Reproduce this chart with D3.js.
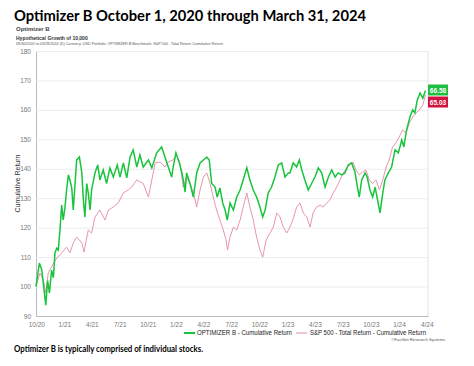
<!DOCTYPE html>
<html lang="en">
<head>
<meta charset="UTF-8">
<title>Optimizer B</title>
<script src="https://d3js.org/d3.v7.min.js"></script>
<style>
  body { margin: 0; background: #fff; }
  svg { display: block; }
  .ttl { font-family: Lato, "Open Sans", sans-serif; font-weight: bold; fill: #000; }
  .sm { font-family: "Liberation Sans", Arial, sans-serif; }
  .tick text { font-family: "Liberation Sans", Arial, sans-serif; font-size: 6.5px; fill: #777; }
</style>
</head>
<body>
<div id="chart"></div>
<script>
// cumulative return, growth of 100
var optDates = ["2020-09-30","2020-10-11","2020-10-19","2020-10-24","2020-11-01","2020-11-07","2020-11-13","2020-11-20","2020-11-26","2020-12-01","2020-12-07","2020-12-12","2020-12-18","2020-12-23","2020-12-28",
  "2021-01-03","2021-01-08","2021-01-14","2021-01-19","2021-01-25","2021-01-30","2021-02-10","2021-02-19","2021-02-27","2021-03-04","2021-03-09","2021-03-15","2021-03-20","2021-03-26","2021-03-31",
  "2021-04-11","2021-04-20","2021-04-27","2021-05-08","2021-05-19","2021-05-30","2021-06-10","2021-06-23","2021-07-02","2021-07-13","2021-07-24","2021-08-04","2021-08-14","2021-08-26","2021-09-05","2021-09-16",
  "2021-10-03","2021-10-14","2021-10-30","2021-11-15","2021-11-26","2021-12-07","2021-12-18","2021-12-23",
  "2022-01-01","2022-01-12","2022-01-20","2022-01-25","2022-01-31","2022-02-05","2022-02-16","2022-02-27","2022-03-10","2022-03-21","2022-04-01","2022-04-12","2022-04-20","2022-04-28",
  "2022-05-09","2022-05-16","2022-05-25","2022-06-03","2022-06-11","2022-06-18","2022-06-27","2022-07-08","2022-07-19","2022-07-30","2022-08-09","2022-08-21","2022-08-31","2022-09-11","2022-09-22",
  "2022-10-03","2022-10-12","2022-10-20","2022-10-30","2022-11-10","2022-11-21","2022-12-02","2022-12-13","2022-12-24",
  "2023-01-04","2023-01-09","2023-01-20","2023-01-31","2023-02-09","2023-02-17","2023-02-27","2023-03-10","2023-03-21","2023-04-01","2023-04-12","2023-04-23","2023-05-04","2023-05-15","2023-05-26",
  "2023-06-06","2023-06-16","2023-06-28","2023-07-08","2023-07-19","2023-07-30","2023-08-10","2023-08-18","2023-08-24","2023-09-01","2023-09-12","2023-09-19","2023-09-28",
  "2023-10-07","2023-10-15","2023-10-23","2023-10-31","2023-11-09","2023-11-16","2023-11-27","2023-12-08","2023-12-19","2023-12-30",
  "2024-01-10","2024-01-17","2024-01-26","2024-02-06","2024-02-15","2024-02-22","2024-03-01","2024-03-10","2024-03-19","2024-03-28"];
var optValues = [100,108,105.6,101,93.7,102,97.8,105.6,103,111.4,113,112.4,120,127.7,122.6,
  127,132.8,137.9,136.2,133.5,126,143,144,138.6,129.4,123.6,135,131.8,126,132.8,
  138.6,141.3,136.2,139.6,135,140.3,137.2,141.3,137.2,142,136.9,144,146.4,140.6,144.7,140.6,
  143,140.3,145.4,147.4,144,140.6,137.2,140.6,
  145.4,142,138.9,136.2,132.1,138.6,135,130.4,138.6,142,143,144,143,135,
  133.8,130.4,133.5,128.4,126,122.6,128.4,126,130.4,132.8,136.2,140.3,136.2,132.8,130.4,
  127,123.6,126,131.8,133.8,137.2,141.3,142,137.2,
  138.6,138.6,142,140.6,143,139.6,136.2,132.8,135,137.2,140.3,138.6,133.8,137.2,139.6,
  137.2,138.6,137.9,138.6,141.3,142,138.9,133.8,130.4,136.2,138.6,137.2,132.8,
  130.4,133.8,129.4,125,131.8,136.2,138.6,140.6,146.4,145.4,
  149.8,147.4,153.2,157.6,160,159,163.4,165.7,164,166.58];

var spxDates = ["2020-09-30","2020-10-13","2020-10-24","2020-11-01","2020-11-09","2020-11-20","2020-12-07","2020-12-23",
  "2021-01-08","2021-01-19","2021-01-30","2021-02-10","2021-02-27","2021-03-06","2021-03-20","2021-03-31","2021-04-11","2021-04-27","2021-05-14","2021-05-25",
  "2021-06-10","2021-06-26","2021-07-13","2021-07-29","2021-08-09","2021-08-26","2021-09-16","2021-10-03","2021-10-14","2021-10-25","2021-11-10","2021-11-26","2021-12-07","2021-12-23",
  "2022-01-03","2022-01-14","2022-01-25","2022-02-05","2022-02-16","2022-02-27","2022-03-10","2022-03-21","2022-04-01","2022-04-12","2022-04-23","2022-05-03","2022-05-14","2022-05-25",
  "2022-06-05","2022-06-14","2022-06-19","2022-06-27","2022-07-08","2022-07-19","2022-07-30","2022-08-09","2022-08-21","2022-08-31","2022-09-11","2022-09-22",
  "2022-10-03","2022-10-12","2022-10-23","2022-11-05","2022-11-16","2022-11-27","2022-12-08","2022-12-18","2022-12-30",
  "2023-01-09","2023-01-20","2023-01-31","2023-02-11","2023-02-22","2023-03-05","2023-03-16","2023-03-26","2023-04-06","2023-04-18","2023-04-28","2023-05-09","2023-05-20","2023-05-31",
  "2023-06-11","2023-06-22","2023-07-03","2023-07-14","2023-07-25","2023-08-03","2023-08-13","2023-08-24","2023-09-04","2023-09-15","2023-09-26",
  "2023-10-07","2023-10-18","2023-10-29","2023-11-09","2023-11-20","2023-11-30","2023-12-11","2023-12-22",
  "2024-01-02","2024-01-13","2024-01-24","2024-02-04","2024-02-15","2024-02-26","2024-03-08","2024-03-19","2024-03-28"];
var spxValues = [100,104.6,102.2,97.8,104.6,106.7,109.7,111.4,
  113.4,111.4,114.8,116.8,114.8,111.7,119.2,118.2,123.6,126,122.6,126,
  127,128.4,131.8,132.8,133.8,136.2,135,130.4,136.2,142,142.3,140.6,142.3,143,
  144.7,142,133.8,137.2,135,131.8,127,132.8,137.2,138.6,135,130.4,126,122.6,
  119.2,115.8,112.4,116.8,120.2,119.2,122.6,127,131.8,127,122.6,116.8,
  112.4,110,115.8,118.2,120.2,125,123.6,120.2,118.2,
  120.2,123,127,128.4,125,123.6,120.2,125,127,127.7,127,128.4,129.4,131.8,
  133.8,136.2,138.6,140.3,141.3,142.3,139.6,137.9,138.9,139.6,136.2,
  135,136.2,132.8,136.2,140.6,143,147.4,148.8,
  150.8,153.2,152.2,155.6,157.6,159,160,161.7,165.03];

var yTicks = [90, 100, 110, 120, 130, 140, 150, 160, 170, 180];
var xTickLabels = ["10/20","1/21","4/21","7/21","10/21","1/22","4/22","7/22","10/22","1/23","4/23","7/23","10/23","1/24","4/24"];
var seriesNames = ["OPTIMIZER B - Cumulative Return", "S&P 500 - Total Return - Cumulative Return"];
var endLabels = ["66.58", "65.03"];

var W = 474, H = 366;
var pLeft = 36, pRight = 428, pTop = 51, pBottom = 316;
var parse = d3.timeParse("%Y-%m-%d");
var parseTick = d3.timeParse("%m/%y");

var opt = optDates.map(function(d, i) { return {date: parse(d), value: optValues[i]}; });
var spx = spxDates.map(function(d, i) { return {date: parse(d), value: spxValues[i]}; });

var x = d3.scaleTime().domain([parse("2020-09-30"), parse("2024-04-05")]).range([pLeft, pRight]);
var y = d3.scaleLinear().domain([90, 180]).range([pBottom, pTop]);

var svg = d3.select("#chart").append("svg").attr("width", W).attr("height", H);
svg.append("rect").attr("width", W).attr("height", H).attr("fill", "#fff");

// titles
svg.append("text").attr("class", "ttl").attr("x", 14).attr("y", 21)
  .attr("font-size", 15.5).attr("textLength", 352).attr("lengthAdjust", "spacingAndGlyphs")
  .text("Optimizer B  October 1, 2020 through March 31, 2024");
svg.append("text").attr("class", "sm").attr("x", 16).attr("y", 31)
  .attr("font-size", 6).attr("font-weight", "bold").attr("fill", "#444").text("Optimizer B");
svg.append("text").attr("class", "sm").attr("x", 16).attr("y", 39.5)
  .attr("font-size", 5).attr("font-weight", "bold").attr("fill", "#333").text("Hypothetical Growth of 10,000");
svg.append("text").attr("class", "sm").attr("x", 16).attr("y", 44.5)
  .attr("font-size", 3.9).attr("fill", "#555").attr("textLength", 207).attr("lengthAdjust", "spacingAndGlyphs")
  .text("09/30/2020 to 03/28/2024 (D) Currency: USD Portfolio: OPTIMIZER B Benchmark: S&P 500 - Total Return Cumulative Return");

// grid + y axis
var yAxis = svg.append("g").attr("transform", "translate(" + pLeft + ",0)")
  .call(d3.axisLeft(y).tickValues(yTicks).tickSize(-(pRight - pLeft)).tickPadding(5));
yAxis.select(".domain").attr("stroke", "#bbb");
yAxis.selectAll(".tick line").attr("stroke", "#ececec");

// right border
svg.append("line").attr("x1", pRight).attr("x2", pRight).attr("y1", pTop).attr("y2", pBottom)
  .attr("stroke", "#e2e2e2");

// x axis
var xAxis = svg.append("g").attr("transform", "translate(0," + pBottom + ")")
  .call(d3.axisBottom(x).tickValues(xTickLabels.map(parseTick)).tickSize(0).tickPadding(6)
    .tickFormat(function(d) { return (d.getMonth() + 1) + "/" + d3.timeFormat("%y")(d); }));
xAxis.select(".domain").attr("stroke", "#bbb");

svg.append("text").attr("class", "sm").attr("transform", "translate(20," + ((pTop + pBottom) / 2) + ") rotate(-90)")
  .attr("text-anchor", "middle").attr("font-size", 7).attr("fill", "#333").text("Cumulative Return");

var line = d3.line().x(function(d) { return x(d.date); }).y(function(d) { return y(d.value); });

svg.append("path").datum(spx).attr("d", line).attr("fill", "none")
  .attr("stroke", "#e48aa4").attr("stroke-width", 0.9);
svg.append("path").datum(opt).attr("d", line).attr("fill", "none")
  .attr("stroke", "#17c43c").attr("stroke-width", 1.5);

// end value boxes
var gy = y(optValues[optValues.length - 1]);
var boxH = 11;
var gTop = gy - boxH / 2 - 0.5;
var rTop = gTop + boxH + 1;
svg.append("rect").attr("x", pRight).attr("y", gTop).attr("width", 20).attr("height", boxH).attr("fill", "#1fbd40");
svg.append("text").attr("class", "sm").attr("x", pRight + 10).attr("y", gTop + 8).attr("text-anchor", "middle")
  .attr("font-size", 6.5).attr("font-weight", "bold").attr("fill", "#fff").text(endLabels[0]);
svg.append("rect").attr("x", pRight).attr("y", rTop).attr("width", 20).attr("height", boxH).attr("fill", "#d3123f");
svg.append("text").attr("class", "sm").attr("x", pRight + 10).attr("y", rTop + 8).attr("text-anchor", "middle")
  .attr("font-size", 6.5).attr("font-weight", "bold").attr("fill", "#fff").text(endLabels[1]);

// legend
var ly = 333;
svg.append("line").attr("x1", 184).attr("x2", 195).attr("y1", ly).attr("y2", ly).attr("stroke", "#17c43c").attr("stroke-width", 2);
svg.append("text").attr("class", "sm").attr("x", 197).attr("y", ly + 2.3).attr("font-size", 6.4).attr("fill", "#222")
  .attr("textLength", 95).attr("lengthAdjust", "spacingAndGlyphs").text(seriesNames[0]);
svg.append("line").attr("x1", 296).attr("x2", 307).attr("y1", ly).attr("y2", ly).attr("stroke", "#e48aa4").attr("stroke-width", 1);
svg.append("text").attr("class", "sm").attr("x", 310).attr("y", ly + 2.3).attr("font-size", 6.4).attr("fill", "#222")
  .attr("textLength", 116).attr("lengthAdjust", "spacingAndGlyphs").text(seriesNames[1]);
svg.append("text").attr("class", "sm").attr("x", 445).attr("y", 341).attr("text-anchor", "end")
  .attr("font-size", 4.2).attr("fill", "#555").text("\u00A9FactSet Research Systems");

// footnote
svg.append("text").attr("class", "ttl").attr("x", 14).attr("y", 352)
  .attr("font-size", 8.5).attr("textLength", 189).attr("lengthAdjust", "spacingAndGlyphs")
  .text("Optimizer B is typically comprised of individual stocks.");
</script>
</body>
</html>
